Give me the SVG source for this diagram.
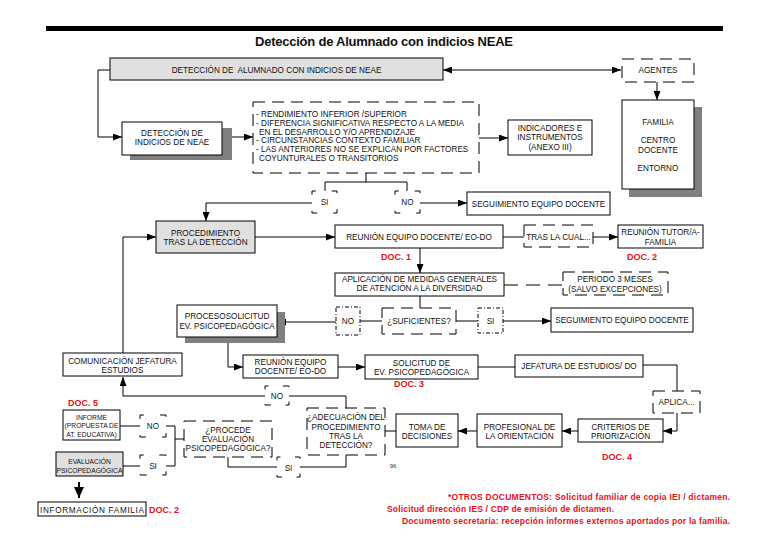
<svg xmlns="http://www.w3.org/2000/svg" width="768" height="543" viewBox="0 0 768 543">
<defs>
<marker id="ah" viewBox="0 0 9 7" refX="9" refY="3.5" markerWidth="9" markerHeight="7" markerUnits="userSpaceOnUse" orient="auto-start-reverse"><path d="M0,0 L9,3.5 L0,7 z" fill="#000"/></marker>
<marker id="ahb" viewBox="0 0 11 10" refX="11" refY="5" markerWidth="11" markerHeight="10" markerUnits="userSpaceOnUse" orient="auto"><path d="M0,0 L11,5 L0,10 z" fill="#000"/></marker>
<style>
.b{fill:#fff;stroke:#000;stroke-width:1}
.g{fill:#e0e0e0;stroke:#000;stroke-width:1}
.sh{fill:#808080;stroke:none}
.d{fill:#fff;stroke:#000;stroke-width:1;stroke-dasharray:12 7}
.br{fill:#fff;stroke:#000;stroke-width:1;stroke-dasharray:8 17;stroke-dashoffset:4}
.dd{fill:#fff;stroke:#000;stroke-width:1;stroke-dasharray:4 2 1 2}
.t{font-family:"Liberation Sans",Arial,sans-serif;font-size:8.2px;fill:#111;text-anchor:middle}
.tl{font-family:"Liberation Sans",Arial,sans-serif;font-size:8.2px;fill:#111;text-anchor:start}
.s{font-family:"Liberation Sans",Arial,sans-serif;font-size:6.7px;fill:#111;text-anchor:middle}
.doc{font-family:"Liberation Sans",Arial,sans-serif;font-size:9px;font-weight:bold;fill:#e8101a;text-anchor:middle}
.red{font-family:"Liberation Sans",Arial,sans-serif;font-size:8.5px;font-weight:bold;fill:#e8101a}
.c{fill:none;stroke:#000;stroke-width:1}
.ca{fill:none;stroke:#000;stroke-width:1;marker-end:url(#ah)}
</style>
</defs>
<rect x="0" y="0" width="768" height="543" fill="#fff"/>
<rect x="46" y="26" width="677" height="5" fill="#000"/>
<text x="384" y="46" font-family="'Liberation Sans',Arial,sans-serif" font-size="13" font-weight="bold" text-anchor="middle" textLength="258" fill="#111">Detección de Alumnado con indicios NEAE</text>

<g id="connectors">
<polyline class="ca" points="110,70 98,70 98,137 122,137"/>
<line x1="443" y1="70" x2="621" y2="70" class="c" marker-start="url(#ah)" marker-end="url(#ah)"/>
<line class="ca" x1="657" y1="82" x2="657" y2="100"/>
<line class="ca" x1="232" y1="137" x2="253" y2="137"/>
<line class="ca" x1="479" y1="138" x2="508" y2="138"/>
<polyline class="c" points="366,173 366,182"/>
<polyline class="c" points="325,191 325,182 407,182 407,191"/>
<polyline class="ca" points="312,203 206,203 206,221"/>
<line class="ca" x1="420" y1="203" x2="467" y2="203"/>
<line class="ca" x1="255" y1="237" x2="335" y2="237"/>
<line class="c" x1="503" y1="237" x2="524" y2="237"/>
<line class="ca" x1="593" y1="237" x2="618" y2="237"/>
<line class="ca" x1="420" y1="248" x2="420" y2="273"/>
<line x1="504" y1="285" x2="563" y2="285" stroke="#000" stroke-width="1" stroke-dasharray="14 8"/>
<line class="c" x1="420" y1="296" x2="420" y2="308"/>
<line class="c" x1="456" y1="321" x2="478" y2="321"/>
<line class="ca" x1="503" y1="321" x2="551" y2="321"/>
<line class="c" x1="360" y1="321" x2="382" y2="321"/>
<line class="ca" x1="336" y1="322" x2="277" y2="322"/>
<polyline class="ca" points="228,343 228,367 243,367"/>
<line class="ca" x1="338" y1="367" x2="365" y2="367"/>
<line class="c" x1="478" y1="367" x2="515" y2="367"/>
<polyline class="ca" points="643,365 677,365 677,431 663,431"/>
<line class="ca" x1="578" y1="431" x2="562" y2="431"/>
<line class="ca" x1="477" y1="431" x2="458" y2="431"/>
<line class="c" x1="396" y1="431" x2="385" y2="431"/>
<polyline class="c" points="346,408 346,396 289,396"/>
<polyline class="ca" points="265,396 123,396 123,377"/>
<polyline class="ca" points="123,353 123,237 156,237"/>
<line class="c" x1="120" y1="426" x2="140" y2="426"/>
<line class="c" x1="123" y1="466" x2="140" y2="466"/>
<polyline class="c" points="166,426 175,426 175,466 166,466"/>
<line class="c" x1="175" y1="439" x2="184" y2="439"/>
<polyline class="c" points="228,457 228,467 277,467"/>
<polyline class="c" points="300,467 346,467 346,455"/>
<line x1="79" y1="482" x2="79" y2="498" stroke="#000" stroke-width="2" marker-end="url(#ahb)"/>
</g>

<g id="n-alumnado"><rect class="g" x="110" y="58" width="333" height="22"/><text class="t" x="276.5" y="73" style="white-space:pre">DETECCIÓN DE  ALUMNADO CON INDICIOS DE NEAE</text></g>
<g id="n-agentes"><rect class="d" x="622" y="59" width="72" height="23"/><text class="t" x="658" y="73">AGENTES</text></g>
<g id="n-familia"><rect class="sh" x="629" y="107" width="73" height="90"/><rect class="b" x="622" y="100" width="72" height="89"/>
<text class="t" x="658" y="125">FAMILIA</text><text class="t" x="658" y="143">CENTRO</text><text class="t" x="658" y="153">DOCENTE</text><text class="t" x="658" y="171">ENTORNO</text></g>
<g id="n-deteccion-indicios"><rect class="sh" x="130" y="128" width="102" height="32"/><rect class="b" x="122" y="122" width="100" height="33"/>
<text class="t" x="172" y="136">DETECCIÓN DE</text><text class="t" x="172" y="145">INDICIOS DE NEAE</text></g>
<g id="n-lista"><rect class="d" x="253" y="102" width="226" height="71"/>
<text class="tl" x="256" y="117">- RENDIMIENTO INFERIOR /SUPERIOR</text>
<text class="tl" x="256" y="126">- DIFERENCIA SIGNIFICATIVA RESPECTO A LA MEDIA</text>
<text class="tl" x="259" y="134.5">EN EL DESARROLLO Y/O APRENDIZAJE</text>
<text class="tl" x="256" y="143">- CIRCUNSTANCIAS CONTEXTO FAMILIAR</text>
<text class="tl" x="256" y="152">- LAS ANTERIORES NO SE EXPLICAN POR FACTORES</text>
<text class="tl" x="259" y="160.5">COYUNTURALES O TRANSITORIOS</text></g>
<g id="n-indicadores"><rect class="b" x="508" y="120" width="84" height="35"/>
<text class="t" x="550" y="131">INDICADORES E</text><text class="t" x="550" y="140">INSTRUMENTOS</text><text class="t" x="550" y="150">(ANEXO III)</text></g>
<g id="n-si1"><rect class="br" pathLength="100" x="312" y="191" width="25" height="22"/><text class="t" x="324.5" y="205">SI</text></g>
<g id="n-no1"><rect class="br" pathLength="100" x="395" y="191" width="25" height="22"/><text class="t" x="407.5" y="205">NO</text></g>
<g id="n-seguimiento1"><rect class="b" x="467" y="192" width="143" height="23"/><text class="t" x="538.5" y="206.5">SEGUIMIENTO EQUIPO DOCENTE</text></g>
<g id="n-procedimiento"><rect class="g" x="156" y="221" width="99" height="32"/>
<text class="t" x="205.5" y="236">PROCEDIMIENTO</text><text class="t" x="205.5" y="245">TRAS LA DETECCIÓN</text></g>
<g id="n-reunion1"><rect class="b" x="335" y="225" width="168" height="23"/><text class="t" x="419" y="240">REUNIÓN EQUIPO DOCENTE/ EO-DO</text>
<text class="doc" x="396" y="260">DOC. 1</text></g>
<g id="n-tras"><rect class="d" x="524" y="225" width="69" height="22"/><text class="t" x="558.5" y="239.5">TRAS LA CUAL...</text></g>
<g id="n-tutor"><rect class="b" x="618" y="225" width="85" height="23"/>
<text class="t" x="660.5" y="235">REUNIÓN TUTOR/A-</text><text class="t" x="660.5" y="245">FAMILIA</text>
<text class="doc" x="642" y="260">DOC. 2</text></g>
<g id="n-aplicacion"><rect class="b" x="335" y="273" width="169" height="23"/>
<text class="t" x="419.5" y="282">APLICACIÓN DE MEDIDAS GENERALES</text><text class="t" x="419.5" y="291">DE ATENCIÓN A LA DIVERSIDAD</text></g>
<g id="n-periodo"><rect class="d" x="563" y="272" width="105" height="23"/>
<text class="t" x="615" y="282">PERIODO 3 MESES</text><text class="t" x="615" y="292">(SALVO EXCEPCIONES)</text></g>
<g id="n-suficientes"><rect class="d" x="382" y="308" width="74" height="26"/><text class="t" x="419" y="324">¿SUFICIENTES?</text></g>
<g id="n-si2"><rect class="dd" x="478" y="308" width="25" height="25"/><text class="t" x="490.5" y="323.5">SI</text></g>
<g id="n-seguimiento2"><rect class="b" x="551" y="308" width="142" height="24"/><text class="t" x="622" y="323">SEGUIMIENTO EQUIPO DOCENTE</text></g>
<g id="n-no2"><rect class="dd" x="336" y="307" width="24" height="28"/><text class="t" x="348" y="324">NO</text></g>
<g id="n-proceso"><rect class="sh" x="185" y="312" width="100" height="31"/><rect class="b" x="177" y="305" width="100" height="32"/>
<text class="t" x="227" y="319">PROCESOSOLICITUD</text><text class="t" x="227" y="329">EV. PSICOPEDAGÓGICA</text></g>
<g id="n-reunion2"><rect class="b" x="243" y="355" width="95" height="23"/>
<text class="t" x="290.5" y="365">REUNIÓN EQUIPO</text><text class="t" x="290.5" y="374">DOCENTE/ EO-DO</text></g>
<g id="n-solicitud"><rect class="b" x="365" y="355" width="113" height="24"/>
<text class="t" x="421.5" y="366">SOLICITUD DE</text><text class="t" x="421.5" y="375">EV. PSICOPEDAGÓGICA</text>
<text class="doc" x="409" y="387">DOC. 3</text></g>
<g id="n-jefatura"><rect class="b" x="515" y="355" width="128" height="22"/><text class="t" x="579" y="369">JEFATURA DE ESTUDIOS/ DO</text></g>
<g id="n-aplica"><rect class="d" x="653" y="391" width="47" height="22"/><text class="t" x="676.5" y="405">APLICA...</text></g>
<g id="n-criterios"><rect class="b" x="578" y="419" width="85" height="23"/>
<text class="t" x="620.5" y="430">CRITERIOS DE</text><text class="t" x="620.5" y="439">PRIORIZACIÓN</text>
<text class="doc" x="617" y="460">DOC. 4</text></g>
<g id="n-profesional"><rect class="b" x="477" y="414" width="85" height="33"/>
<text class="t" x="519.5" y="430">PROFESIONAL DE</text><text class="t" x="519.5" y="439">LA ORIENTACIÓN</text></g>
<g id="n-toma"><rect class="b" x="396" y="414" width="62" height="33"/>
<text class="t" x="427" y="430">TOMA DE</text><text class="t" x="427" y="439">DECISIONES</text></g>
<g id="n-adecuacion"><rect class="d" x="307" y="408" width="78" height="47"/>
<text class="t" x="346" y="420">¿ADECUACIÓN DEL</text><text class="t" x="346" y="430">PROCEDIMIENTO</text><text class="t" x="346" y="439">TRAS LA</text><text class="t" x="346" y="448">DETECCIÓN?</text></g>
<g id="n-no3"><rect class="br" pathLength="100" x="265" y="386" width="24" height="19"/><text class="t" x="277" y="398.5">NO</text></g>
<g id="n-comunicacion"><rect class="b" x="63" y="353" width="119" height="23"/>
<text class="t" x="122.5" y="364">COMUNICACIÓN JEFATURA</text><text class="t" x="122.5" y="373">ESTUDIOS</text>
<text class="doc" x="83" y="406">DOC. 5</text></g>
<g id="n-informe"><rect class="b" x="63" y="410" width="57" height="30"/>
<text class="s" x="91.5" y="419.5">INFORME</text><text class="s" x="91.5" y="428">(PROPUESTA DE</text><text class="s" x="91.5" y="436.5">AT. EDUCATIVA)</text></g>
<g id="n-evaluacion"><rect class="g" x="56" y="452" width="67" height="24"/>
<text class="s" x="89.5" y="464">EVALUACIÓN</text><text class="s" x="89.5" y="472.5">PSICOPEDAGÓGICA</text></g>
<g id="n-no4"><rect class="br" pathLength="100" x="140" y="415" width="26" height="22"/><text class="t" x="153" y="429">NO</text></g>
<g id="n-si4"><rect class="br" pathLength="100" x="140" y="455" width="26" height="20"/><text class="t" x="153" y="468.5">SI</text></g>
<g id="n-procede"><rect class="d" x="184" y="421" width="88" height="36"/>
<text class="t" x="228" y="433">¿PROCEDE</text><text class="t" x="228" y="442">EVALUACIÓN</text><text class="t" x="228" y="451">PSICOPEDAGÓGICA?</text></g>
<g id="n-si3"><rect class="br" pathLength="100" x="277" y="457" width="23" height="20"/><text class="t" x="288.5" y="470.5">SI</text></g>
<g id="n-info-familia"><rect class="b" x="38" y="502" width="108" height="14"/>
<text class="t" x="92" y="512.5" font-size="8.6" textLength="104">INFORMACIÓN FAMILIA</text>
<text class="doc" x="164" y="512.5">DOC. 2</text></g>
<text x="393" y="468" font-family="'Liberation Sans',Arial,sans-serif" font-size="6" text-anchor="middle" fill="#333">96</text>
<g id="notes">
<text class="red" x="448" y="500" textLength="282">*OTROS DOCUMENTOS: Solicitud familiar de copia IEI / dictamen.</text>
<text class="red" x="387" y="512" textLength="227">Solicitud dirección IES / CDP de emisión de dictamen.</text>
<text class="red" x="402" y="524" textLength="328">Documento secretaría: recepción informes externos aportados por la familia.</text>
</g>
</svg>
